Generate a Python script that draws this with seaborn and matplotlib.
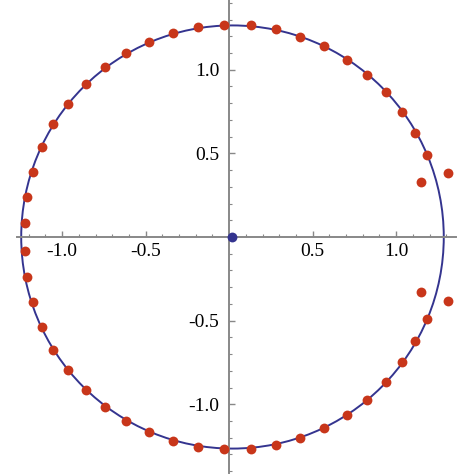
import numpy as np
import pandas as pd
import seaborn as sns
import matplotlib
matplotlib.use("Agg")
import matplotlib.pyplot as plt

# points (upper half, then lower half)
x_upper = [0.129, 0.280, 0.426, 0.569, 0.704, 0.823, 0.937, 1.033, 1.115, 1.183, 1.147, 1.312,
           -0.031, -0.185, -0.335, -0.478, -0.616, -0.746, -0.857, -0.967, -1.053, -1.119, -1.177, -1.209, -1.223]
y_upper = [1.267, 1.243, 1.197, 1.141, 1.059, 0.969, 0.864, 0.750, 0.619, 0.489, 0.329, 0.381,
           1.267, 1.257, 1.221, 1.167, 1.101, 1.016, 0.916, 0.798, 0.674, 0.538, 0.391, 0.239, 0.083]
x_lower = [0.129, 0.280, 0.426, 0.569, 0.704, 0.823, 0.937, 1.033, 1.115, 1.183, 1.147, 1.312,
           -0.031, -0.185, -0.335, -0.478, -0.616, -0.746, -0.857, -0.967, -1.053, -1.119, -1.177, -1.209, -1.223]
y_lower = [-1.267, -1.242, -1.199, -1.143, -1.063, -0.972, -0.866, -0.749, -0.621, -0.490, -0.331, -0.382,
           -1.267, -1.257, -1.221, -1.167, -1.101, -1.016, -0.916, -0.798, -0.674, -0.538, -0.391, -0.239, -0.083]

center_x = [0.02]
center_y = [0.0]
radius = 1.265

major_ticks = [-1.0, -0.5, 0.5, 1.0]
tick_labels = ["-1.0", "-0.5", "0.5", "1.0"]

RED = "#c8361a"
BLUE = "#34348f"
GRAY = "#888888"

sns.set_style("white")
plt.rcParams['font.family'] = ['Liberation Serif', 'DejaVu Serif']

df = pd.DataFrame({"x": x_upper + x_lower, "y": y_upper + y_lower})

fig = plt.figure(figsize=(4.74, 4.74), dpi=100)
ax = fig.add_axes([0, 0, 1, 1])

ax.add_patch(plt.Circle((center_x[0], center_y[0]), radius, fill=False,
                        color=BLUE, linewidth=1.4, zorder=2))
sns.scatterplot(data=df, x="x", y="y", color=RED, s=50, linewidth=0, ax=ax, zorder=3)
sns.scatterplot(x=center_x, y=center_y, color=BLUE, s=50, linewidth=0, ax=ax, zorder=3)

ax.set_xlim(-1.372, 1.466)
ax.set_ylim(-1.417, 1.417)
ax.set_xlabel("")
ax.set_ylabel("")

for side in ["top", "right"]:
    ax.spines[side].set_visible(False)
for side in ["left", "bottom"]:
    ax.spines[side].set_position(("data", 0))
    ax.spines[side].set_color(GRAY)
    ax.spines[side].set_linewidth(1.4)
ax.spines["bottom"].set_bounds(-1.27, 1.36)
ax.spines["left"].set_bounds(-1.41, 1.42)

minor_x = [v / 10 for v in range(-12, 14) if v % 5 != 0]
minor_y = [v / 10 for v in range(-14, 15) if v % 5 != 0]
ax.set_xticks(major_ticks)
ax.set_xticklabels(tick_labels)
ax.set_yticks(major_ticks)
ax.set_yticklabels(tick_labels)
ax.set_xticks(minor_x, minor=True)
ax.set_yticks(minor_y, minor=True)
ax.tick_params(which="both", bottom=True, left=True, direction="in", color=GRAY,
               labelsize=14, labelcolor="black")
ax.tick_params(which="major", length=4.5, width=1)
ax.tick_params(which="minor", length=2.5, width=0.8)
ax.tick_params(axis="x", pad=4)
ax.tick_params(axis="y", pad=7)

fig.savefig("out.png", dpi=100)
